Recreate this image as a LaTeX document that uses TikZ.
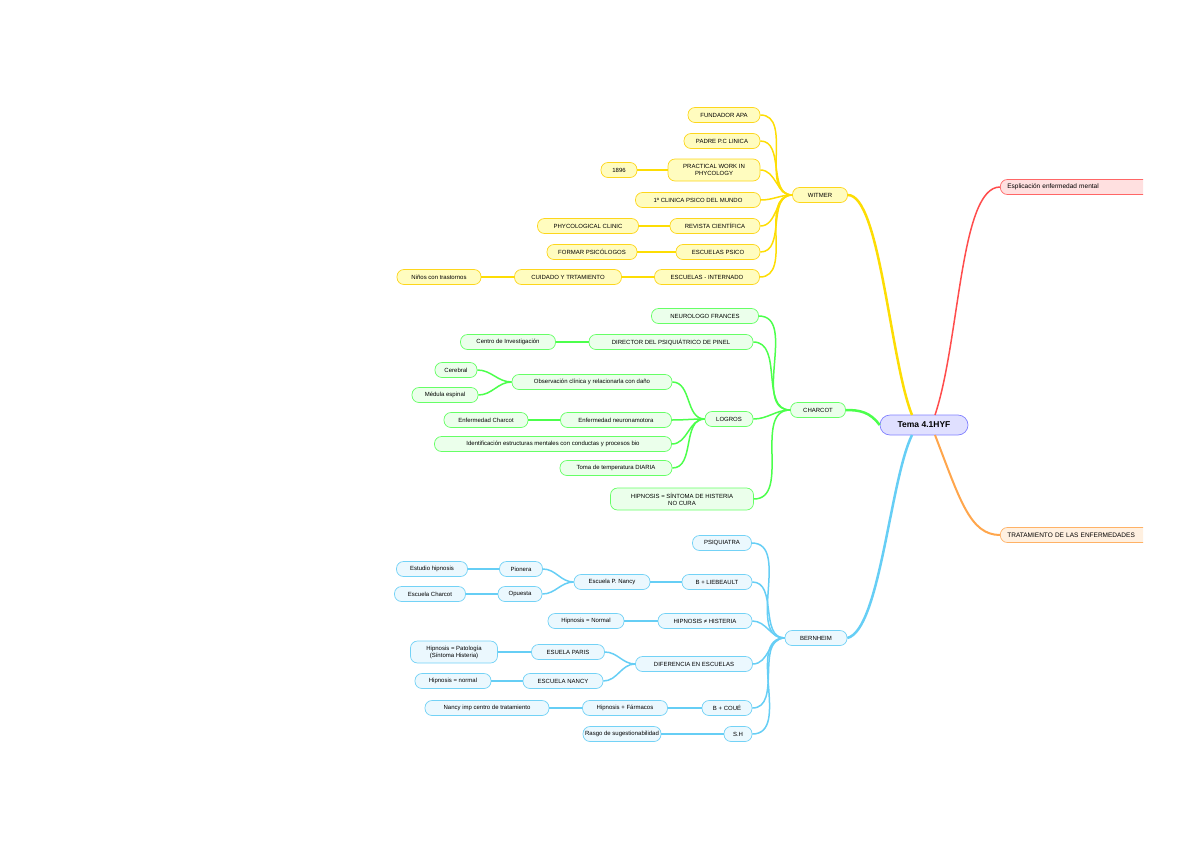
\documentclass[tikz,border=0pt]{standalone}
\usepackage{fontspec}
\setmainfont{Liberation Sans}
\begin{document}
\begin{tikzpicture}[x=1pt,y=-1pt,
 bx/.style={draw,rounded corners=7pt,minimum height=15pt,inner xsep=2pt,inner ysep=1pt,font=\fontsize{6}{7}\selectfont,align=center,line width=0.7pt},
 yb/.style={bx,draw=yellow!70!orange!90,fill=yellow!25},
 gb/.style={bx,draw=green!60,fill=green!8},
 bb/.style={bx,draw=cyan!55,fill=cyan!8},
 yl/.style={draw=yellow!80!orange,line width=1.5pt},
 gl/.style={draw=green!70,line width=1.5pt},
 bl/.style={draw=cyan!60,line width=1.5pt},
 cc/.style={out=0,in=180}]
\useasboundingbox (0,0) rectangle (1200,849);
% center
\node[bx,draw=blue!50,fill=blue!12,minimum height=20pt,minimum width=88pt,rounded corners=10pt,font=\fontsize{8.5}{10}\selectfont\bfseries] (c) at (924,425) {Tema 4.1HYF};
% right side branches
\begin{scope}
\clip (0,0) rectangle (1143,849);
\node[bx,draw=red!60,fill=red!12,text width=180pt,align=left,inner xsep=7pt,anchor=west,font=\fontsize{6.5}{7}\selectfont] (r) at (1000,187) {Esplicación enfermedad mental};
\node[bx,draw=orange!60,fill=orange!12,text width=180pt,align=left,inner xsep=7pt,anchor=west,font=\fontsize{6.5}{7}\selectfont] (o) at (1000,535) {TRATAMIENTO DE LAS ENFERMEDADES};
\end{scope}
\draw[draw=red!70,line width=1.5pt] (935,415) .. controls (960,340) and (960,187) .. (r.west);
\draw[draw=orange!70,line width=2pt] (935,435) .. controls (960,500) and (970,535) .. (o.west);
% WITMER
\node[yb,minimum width=55pt] (w) at (820,195) {WITMER};
\draw[yl,line width=2.5pt] (w.east) .. controls (880,195) and (890,360) .. (912,415);
\node[yb,minimum width=72pt] (w1) at (724,115) {FUNDADOR APA};
\node[yb,minimum width=76pt] (w2) at (722,141) {PADRE P.C LINICA};
\node[yb,minimum width=92pt,minimum height=22pt] (w3) at (714,170) {PRACTICAL WORK IN\\PHYCOLOGY};
\node[yb,minimum width=36pt] (w3a) at (619,170) {1896};
\node[yb,minimum width=125pt] (w4) at (698,200) {1º CLINICA PSICO DEL MUNDO};
\node[yb,minimum width=90pt] (w5) at (715,226) {REVISTA CIENTÍFICA};
\node[yb,minimum width=101pt] (w5a) at (588,226) {PHYCOLOGICAL CLINIC};
\node[yb,minimum width=84pt] (w6) at (718,252) {ESCUELAS PSICO};
\node[yb,minimum width=90pt] (w6a) at (592,252) {FORMAR PSICÓLOGOS};
\node[yb,minimum width=105pt] (w7) at (707,277) {ESCUELAS - INTERNADO};
\node[yb,minimum width=107pt] (w7a) at (568,277) {CUIDADO Y TRTAMIENTO};
\node[yb,minimum width=84pt] (w7b) at (439,277) {Niños con trastornos};
\foreach \n in {w1,w2,w3,w4,w5,w6,w7} \draw[yl] (\n.east) to[cc] (w.west);
\draw[yl] (w3a) -- (w3); \draw[yl] (w5a) -- (w5); \draw[yl] (w6a) -- (w6);
\draw[yl] (w7b) -- (w7a) -- (w7);
% CHARCOT
\node[gb,minimum width=55pt] (ch) at (818,410) {CHARCOT};
\draw[gl,line width=2.5pt] (ch.east) .. controls (860,410) and (870,412) .. (c.west);
\node[gb,minimum width=107pt] (g1) at (705,316) {NEUROLOGO FRANCES};
\node[gb,minimum width=164pt] (g2) at (671,342) {DIRECTOR DEL PSIQUIÁTRICO DE PINEL};
\node[gb,minimum width=95pt] (g2a) at (508,342) {Centro de Investigación};
\node[gb,minimum width=48pt] (lg) at (729,419) {LOGROS};
\node[gb,minimum width=160pt] (l1) at (592,382) {Observación clínica y relacionarla con daño};
\node[gb,minimum width=42pt] (l1a) at (456,370) {Cerebral};
\node[gb,minimum width=66pt] (l1b) at (445,395) {Médula espinal};
\node[gb,minimum width=111pt] (l2) at (616,420) {Enfermedad neuronamotora};
\node[gb,minimum width=84pt] (l2a) at (486,420) {Enfermedad Charcot};
\node[gb,minimum width=237pt] (l3) at (553,444) {Identificación estructuras mentales con conductas y procesos bio};
\node[gb,minimum width=112pt] (l4) at (616,468) {Toma de temperatura DIARIA};
\node[gb,minimum width=143pt,minimum height=22pt] (g4) at (682,499) {HIPNOSIS = SÍNTOMA DE HISTERIA\\NO CURA};
\foreach \n in {g1,g2,lg,g4} \draw[gl] (\n.east) to[cc] (ch.west);
\foreach \n in {l1,l2,l3,l4} \draw[gl] (\n.east) to[cc] (lg.west);
\draw[gl] (g2a) -- (g2); \draw[gl] (l2a) -- (l2);
\draw[gl] (l1a.east) to[cc] (l1.west); \draw[gl] (l1b.east) to[cc] (l1.west);
% BERNHEIM
\node[bb,minimum width=62pt] (be) at (816,638) {BERNHEIM};
\draw[bl,line width=2.5pt] (be.east) .. controls (880,630) and (890,480) .. (912,435);
\node[bb,minimum width=59pt] (b1) at (722,543) {PSIQUIATRA};
\node[bb,minimum width=70pt] (b2) at (717,582) {B + LIEBEAULT};
\node[bb,minimum width=76pt] (b2a) at (612,582) {Escuela P. Nancy};
\node[bb,minimum width=43pt] (b2b) at (521,569) {Pionera};
\node[bb,minimum width=44pt] (b2c) at (520,594) {Opuesta};
\node[bb,minimum width=71pt] (b2d) at (432,569) {Estudio hipnosis};
\node[bb,minimum width=71pt] (b2e) at (430,594) {Escuela Charcot};
\node[bb,minimum width=94pt] (b3) at (705,621) {HIPNOSIS ≠ HISTERIA};
\node[bb,minimum width=76pt] (b3a) at (586,621) {Hipnosis = Normal};
\node[bb,minimum width=117pt] (b4) at (694,664) {DIFERENCIA EN ESCUELAS};
\node[bb,minimum width=73pt] (b4a) at (568,652) {ESUELA PARIS};
\node[bb,minimum width=80pt] (b4b) at (563,681) {ESCUELA NANCY};
\node[bb,minimum width=87pt,minimum height=22pt] (b4c) at (454,652) {Hipnosis = Patología\\(Síntoma Histeria)};
\node[bb,minimum width=76pt] (b4d) at (453,681) {Hipnosis = normal};
\node[bb,minimum width=50pt] (b5) at (727,708) {B + COUÉ};
\node[bb,minimum width=85pt] (b5a) at (625,708) {Hipnosis + Fármacos};
\node[bb,minimum width=124pt] (b5b) at (487,708) {Nancy imp centro de tratamiento};
\node[bb,minimum width=28pt] (b6) at (738,734) {S.H};
\node[bb,minimum width=78pt] (b6a) at (622,734) {Rasgo de sugestionabilidad};
\foreach \n in {b1,b2,b3,b4,b5,b6} \draw[bl] (\n.east) to[cc] (be.west);
\draw[bl] (b2a) -- (b2); \draw[bl] (b2d) -- (b2b); \draw[bl] (b2e) -- (b2c);
\draw[bl] (b2b.east) to[cc] (b2a.west); \draw[bl] (b2c.east) to[cc] (b2a.west);
\draw[bl] (b3a) -- (b3);
\draw[bl] (b4a.east) to[cc] (b4.west); \draw[bl] (b4b.east) to[cc] (b4.west);
\draw[bl] (b4c) -- (b4a); \draw[bl] (b4d) -- (b4b);
\draw[bl] (b5b) -- (b5a) -- (b5); \draw[bl] (b6a) -- (b6);
\end{tikzpicture}
\end{document}
